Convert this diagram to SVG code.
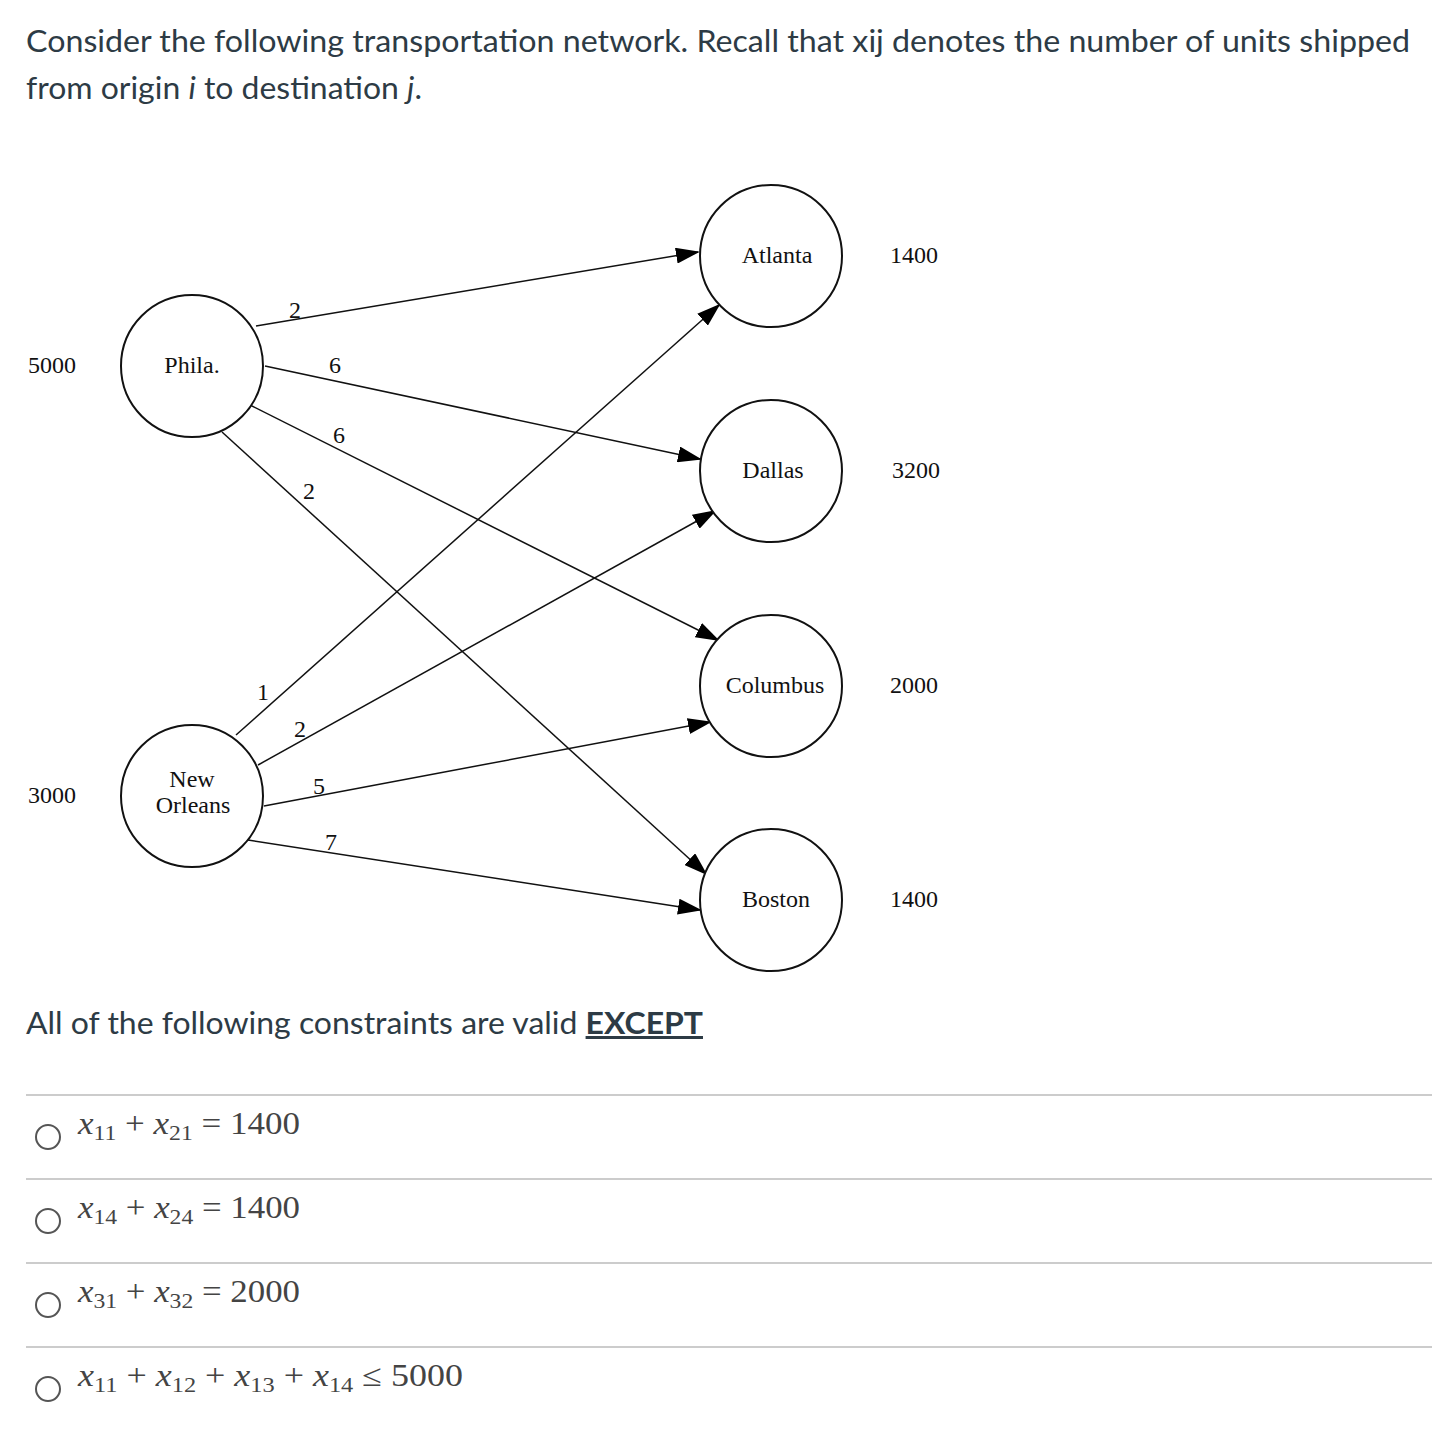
<svg xmlns="http://www.w3.org/2000/svg" width="1446" height="1452" viewBox="0 0 1446 1452">
<style>
.q{font-family:Lato,"Open Sans",sans-serif;font-size:30px;fill:#2d3b45}
.n{font-family:"Liberation Serif",serif;font-size:24px;fill:#111}
.node{fill:#fff;stroke:#111;stroke-width:2}
.e{stroke:#111;stroke-width:1.5;fill:none;marker-end:url(#a)}
.m{font-family:"Liberation Serif",serif;font-size:31px;fill:#444}
.s{font-size:21px}
.r{fill:none;stroke:#555;stroke-width:2}
.hr{stroke:#ccc;stroke-width:2}
</style>
<defs><marker id="a" markerWidth="24" markerHeight="16" refX="22" refY="8" orient="auto" markerUnits="userSpaceOnUse"><path d="M0,0 L24,8 L0,16 Z" fill="#000"/></marker></defs>
<rect width="1446" height="1452" fill="#fff"/>
<text class="q" x="26" y="52" textLength="1384" lengthAdjust="spacingAndGlyphs">Consider the following transportation network. Recall that  xij denotes the number of units shipped</text>
<text class="q" x="26" y="99" textLength="396" lengthAdjust="spacingAndGlyphs">from origin <tspan font-style="italic">i</tspan> to destination <tspan font-style="italic">j</tspan>.</text>
<g id="connectors">
<line class="e" x1="256" y1="326" x2="698" y2="252"/>
<line class="e" x1="265" y1="366" x2="700" y2="459"/>
<line class="e" x1="250" y1="405" x2="718" y2="640"/>
<line class="e" x1="222" y1="432" x2="706" y2="874"/>
<line class="e" x1="236" y1="735" x2="719" y2="305"/>
<line class="e" x1="258" y1="765" x2="715" y2="511"/>
<line class="e" x1="264" y1="806" x2="710" y2="722"/>
<line class="e" x1="248" y1="840" x2="700" y2="910"/>
<g class="n" font-size="21">
<text x="289" y="318">2</text><text x="329" y="373">6</text><text x="333" y="443">6</text><text x="303" y="499">2</text>
<text x="257" y="700">1</text><text x="294" y="737">2</text><text x="313" y="794">5</text><text x="325" y="850">7</text>
</g>
</g>
<g id="phila"><circle class="node" cx="192" cy="366" r="71"/><text class="n" x="192" y="373" text-anchor="middle">Phila.</text></g>
<g id="neworleans"><circle class="node" cx="192" cy="796" r="71"/><text class="n" x="192" y="787" text-anchor="middle">New</text><text class="n" x="193" y="813" text-anchor="middle">Orleans</text></g>
<g id="atlanta"><circle class="node" cx="771" cy="256" r="71"/><text class="n" x="777" y="263" text-anchor="middle">Atlanta</text></g>
<g id="dallas"><circle class="node" cx="771" cy="471" r="71"/><text class="n" x="773" y="478" text-anchor="middle">Dallas</text></g>
<g id="columbus"><circle class="node" cx="771" cy="686" r="71"/><text class="n" x="775" y="693" text-anchor="middle">Columbus</text></g>
<g id="boston"><circle class="node" cx="771" cy="900" r="71"/><text class="n" x="776" y="907" text-anchor="middle">Boston</text></g>
<g class="n" font-size="22">
<text x="28" y="373">5000</text><text x="28" y="803">3000</text>
<text x="890" y="263">1400</text><text x="892" y="478">3200</text><text x="890" y="693">2000</text><text x="890" y="907">1400</text>
</g>
<text class="q" x="26" y="1034" textLength="677" lengthAdjust="spacingAndGlyphs">All of the following constraints are valid <tspan font-weight="bold" text-decoration="underline">EXCEPT</tspan></text>
<g>
<line class="hr" x1="26" y1="1095" x2="1432" y2="1095"/>
<line class="hr" x1="26" y1="1179" x2="1432" y2="1179"/>
<line class="hr" x1="26" y1="1263" x2="1432" y2="1263"/>
<line class="hr" x1="26" y1="1347" x2="1432" y2="1347"/>
<circle class="r" cx="48" cy="1137" r="12"/><circle class="r" cx="48" cy="1221" r="12"/><circle class="r" cx="48" cy="1305" r="12"/><circle class="r" cx="48" cy="1389" r="12"/>
<text class="m" x="78" y="1134" textLength="222" lengthAdjust="spacingAndGlyphs"><tspan font-style="italic">x</tspan><tspan class="s" dy="6">11</tspan><tspan dy="-6"> + </tspan><tspan font-style="italic">x</tspan><tspan class="s" dy="6">21</tspan><tspan dy="-6"> = 1400</tspan></text>
<text class="m" x="78" y="1218" textLength="222" lengthAdjust="spacingAndGlyphs"><tspan font-style="italic">x</tspan><tspan class="s" dy="6">14</tspan><tspan dy="-6"> + </tspan><tspan font-style="italic">x</tspan><tspan class="s" dy="6">24</tspan><tspan dy="-6"> = 1400</tspan></text>
<text class="m" x="78" y="1302" textLength="222" lengthAdjust="spacingAndGlyphs"><tspan font-style="italic">x</tspan><tspan class="s" dy="6">31</tspan><tspan dy="-6"> + </tspan><tspan font-style="italic">x</tspan><tspan class="s" dy="6">32</tspan><tspan dy="-6"> = 2000</tspan></text>
<text class="m" x="78" y="1386" textLength="385" lengthAdjust="spacingAndGlyphs"><tspan font-style="italic">x</tspan><tspan class="s" dy="6">11</tspan><tspan dy="-6"> + </tspan><tspan font-style="italic">x</tspan><tspan class="s" dy="6">12</tspan><tspan dy="-6"> + </tspan><tspan font-style="italic">x</tspan><tspan class="s" dy="6">13</tspan><tspan dy="-6"> + </tspan><tspan font-style="italic">x</tspan><tspan class="s" dy="6">14</tspan><tspan dy="-6"> ≤ 5000</tspan></text>
</g>
</svg>
